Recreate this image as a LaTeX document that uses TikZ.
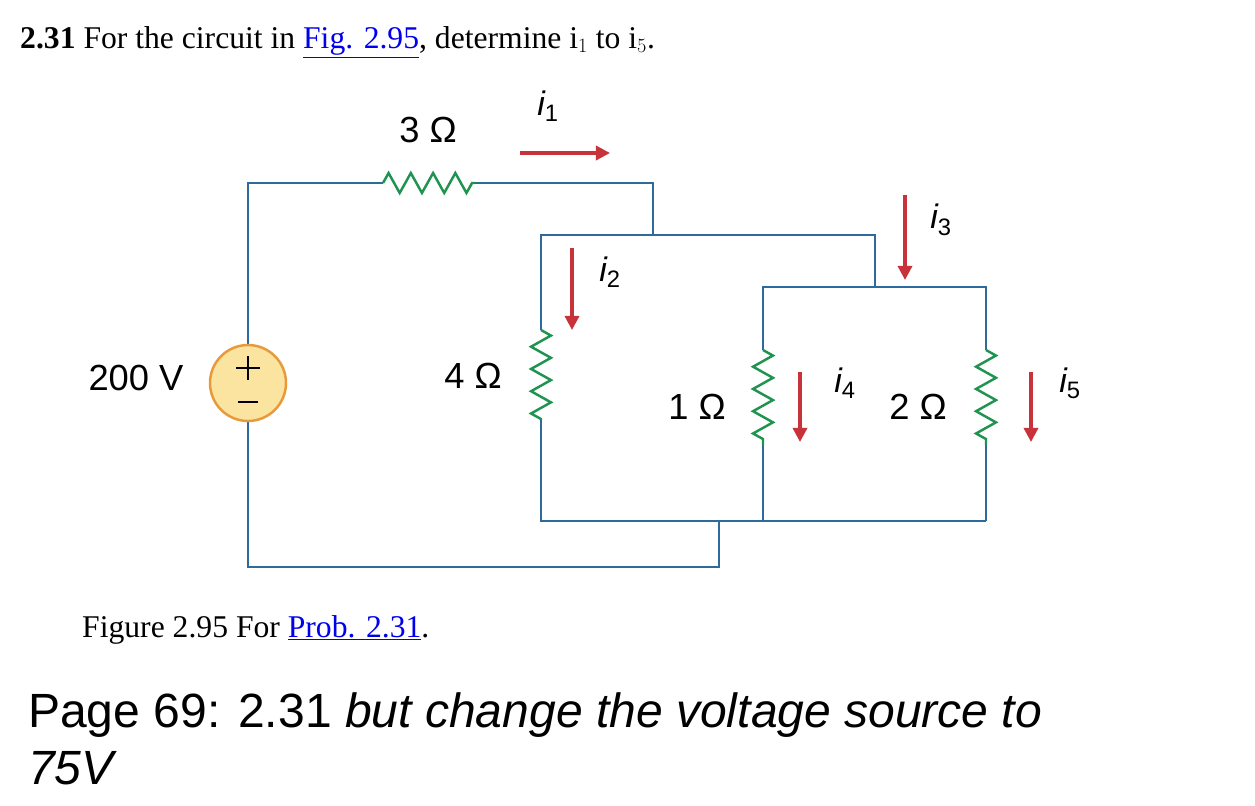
\documentclass[tikz,border=0pt]{standalone}
\usepackage{fontspec}
\setmainfont{Liberation Serif}
\newfontfamily\lsans{Liberation Sans}
\usetikzlibrary{decorations.pathmorphing,arrows.meta}
\definecolor{wire}{HTML}{2F6A9C}
\definecolor{res}{HTML}{1E9450}
\definecolor{arr}{HTML}{C8323A}
\definecolor{lnk}{HTML}{0000EE}
\definecolor{srcf}{HTML}{FBE3A0}
\definecolor{srcb}{HTML}{E89A3A}
\begin{document}
\begin{tikzpicture}[x=0.03cm,y=-0.03cm,
  w/.style={wire,line width=2.1pt},
  r/.style={res,line width=2.1pt,decorate,decoration={zigzag,segment length=19pt,amplitude=8.5pt}},
  ia/.style={arr,line width=2.8pt,-{Triangle[length=12pt,width=12pt]}},
  lab/.style={font=\lsans\fontsize{31}{34}\selectfont,inner sep=0pt},
  cur/.style={font=\lsans\itshape\fontsize{29}{32}\selectfont,inner sep=0pt}]
\useasboundingbox (0,0) rectangle (1255,805);
\node[anchor=west,inner sep=0pt,font=\fontsize{27}{30}\selectfont] (title) at (20,42) {\textbf{2.31} For the circuit in \textcolor{lnk}{\underline{Fig. 2.95}}, determine i$_1$ to i$_5$.};
% wires
\draw[w] (248,345) -- (248,183) -- (383,183);
\draw[r] (383,183) -- (475,183);
\draw[w] (475,183) -- (653,183) -- (653,235);
\draw[w] (541,330) -- (541,235) -- (875,235) -- (875,287);
\draw[r] (541,330) -- (541,420);
\draw[w] (541,420) -- (541,521) -- (986,521);
\draw[w] (763,350) -- (763,287) -- (986,287) -- (986,350);
\draw[r] (763,350) -- (763,445);
\draw[r] (986,350) -- (986,445);
\draw[w] (763,445) -- (763,521);
\draw[w] (986,445) -- (986,521);
\draw[w] (719,521) -- (719,567) -- (248,567) -- (248,421);
% source
\node[circle,draw=srcb,fill=srcf,line width=2.1pt,minimum size=76*0.03cm,inner sep=0pt] (src) at (248,383) {};
\draw[line width=1.6pt] (236,368) -- (260,368) (248,356) -- (248,380);
\draw[line width=1.6pt] (238,402) -- (258,402);
% labels
\node[lab] (v) at (136,378) {200 V};
\node[lab] (r3) at (428,130) {3 Ω};
\node[lab] (r4) at (473,376) {4 Ω};
\node[lab] (r1) at (697,407) {1 Ω};
\node[lab] (r2) at (918,407) {2 Ω};
% currents
\coordinate (a1) at (520,153); \coordinate (b1) at (610,153);
\draw[ia] (a1) -- (b1);
\node[cur] at (548,106) {i\textsubscript{\upshape 1}};
\coordinate (a2) at (572,248); \coordinate (b2) at (572,330);
\draw[ia] (a2) -- (b2);
\node[cur] at (610,272) {i\textsubscript{\upshape 2}};
\coordinate (a3) at (905,195); \coordinate (b3) at (905,280);
\draw[ia] (a3) -- (b3);
\node[cur] at (941,220) {i\textsubscript{\upshape 3}};
\coordinate (a4) at (800,372); \coordinate (b4) at (800,442);
\draw[ia] (a4) -- (b4);
\node[cur] at (845,383) {i\textsubscript{\upshape 4}};
\coordinate (a5) at (1031,372); \coordinate (b5) at (1031,442);
\draw[ia] (a5) -- (b5);
\node[cur] at (1070,383) {i\textsubscript{\upshape 5}};
% caption
\node[anchor=west,inner sep=0pt,font=\fontsize{27}{30}\selectfont] (cap) at (82,630) {Figure 2.95 For \textcolor{lnk}{\underline{Prob. 2.31}}.};
\node[anchor=north west,inner sep=0pt,align=left,font=\lsans\fontsize{41}{49}\selectfont] (pg) at (28,692) {Page 69: 2.31 \textit{but change the voltage source to}\\\textit{75V}};
\end{tikzpicture}
\end{document}
